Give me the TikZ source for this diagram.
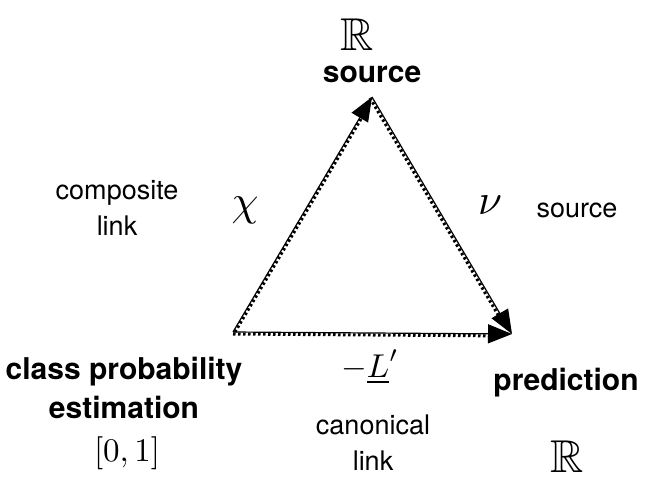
\documentclass[tikz,border=0pt]{standalone}
\usepackage{amssymb}
\usepackage{fontspec}
\setmainfont{TeX Gyre Heros}
\usetikzlibrary{arrows.meta}
\newcommand{\bigmath}[2]{\scalebox{#1}{$#2$}}
\begin{document}
\begin{tikzpicture}[x=1pt,y=-1pt,
  lbl/.style={font=\fontsize{27}{36}\selectfont,align=center,inner sep=0},
  blbl/.style={font=\fontsize{30}{39}\selectfont\bfseries,align=center,inner sep=0},
  mnode/.style={inner sep=0},
  edge/.style={line width=1.2pt,-{Triangle[length=24pt,width=19pt]}},
  dots/.style={line width=3pt,dash pattern=on 2.5pt off 2.5pt,shorten >=20pt}]
\useasboundingbox (0,0) rectangle (652,482);
\coordinate (A) at (233,332);
\coordinate (T) at (372,97);
\coordinate (B) at (512,334);
\draw[edge] (A) -- (T);
\draw[edge] (T) -- (B);
\draw[edge] (A) -- (B);
\draw[dots] ([xshift=2pt]A) -- ([xshift=2pt]T);
\draw[dots] ([xshift=-2pt,yshift=-1pt]T) -- ([xshift=-2pt,yshift=-1pt]B);
\draw[dots] ([yshift=-2pt]A) -- ([yshift=-2pt]B);
\node[mnode] (r1) at (357,35) {\bigmath{4.6}{\mathbb{R}}};
\node[blbl] (src) at (372,74) {source};
\node[lbl] (comp) at (117,208) {composite\\link};
\node[mnode] (chi) at (245,210) {\bigmath{4.3}{\chi}};
\node[mnode] (nu) at (490,205) {\bigmath{4.3}{\nu}};
\node[lbl] (src2) at (577,210) {source};
\node[mnode] (L) at (370,367) {\bigmath{3.3}{-\underline{L}'}};
\node[blbl] (cpe) at (124,388) {class probability\\estimation};
\node[mnode] (int) at (127,453) {\bigmath{3.3}{[0,1]}};
\node[blbl] (pred) at (566,383) {prediction};
\node[lbl] (can) at (373,443) {canonical\\link};
\node[mnode] (r2) at (567,457) {\bigmath{4.6}{\mathbb{R}}};
\end{tikzpicture}
\end{document}
